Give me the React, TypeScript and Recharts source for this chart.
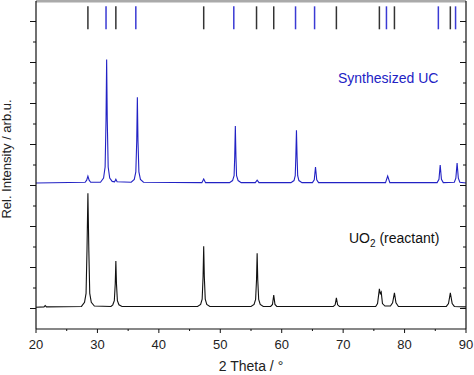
import React from 'react';
import { LineChart, Line, XAxis, YAxis, ReferenceLine } from 'recharts';

// UO2 (reactant) pattern, [2theta, rel. intensity], baseline ~0
const uo2Pattern = [
  [20, 0.03], [21.3, 0.04], [21.5, 0.07], [21.7, 0.04],
  [27.4, 0.05], [27.9, 0.15], [28.15, 0.37], [28.3, 1.42], [28.45, 2.81], [28.6, 1.42], [28.75, 0.37], [29.0, 0.15], [29.5, 0.06],
  [32.2, 0.05], [32.5, 0.09], [32.75, 0.19], [32.9, 0.6], [33.0, 1.16], [33.1, 0.6], [33.25, 0.19], [33.5, 0.09], [34.0, 0.05],
  [46.3, 0.05], [46.8, 0.1], [47.05, 0.23], [47.2, 0.78], [47.3, 1.52], [47.4, 0.78], [47.55, 0.23], [47.8, 0.1], [48.3, 0.05],
  [55.0, 0.05], [55.5, 0.1], [55.75, 0.22], [55.9, 0.7], [56.0, 1.35], [56.1, 0.7], [56.25, 0.22], [56.5, 0.1], [57.0, 0.05],
  [58.2, 0.05], [58.5, 0.1], [58.7, 0.33], [58.9, 0.1], [59.2, 0.05],
  [68.4, 0.05], [68.7, 0.09], [68.9, 0.26], [69.1, 0.09], [69.4, 0.05],
  [75.3, 0.05], [75.6, 0.12], [75.9, 0.48], [76.05, 0.36], [76.2, 0.4], [76.4, 0.12], [76.8, 0.06],
  [77.7, 0.06], [78.05, 0.14], [78.35, 0.38], [78.6, 0.14], [79.0, 0.05],
  [86.8, 0.05], [87.15, 0.12], [87.45, 0.38], [87.75, 0.12], [88.1, 0.05], [90, 0.04],
];

// Synthesized UC pattern, baseline ~3.06
const ucPattern = [
  [20, 3.06],
  [28.0, 3.08], [28.25, 3.13], [28.45, 3.23], [28.65, 3.13], [28.9, 3.08],
  [30.5, 3.08], [31.0, 3.18], [31.25, 3.45], [31.4, 4.6], [31.5, 6.07], [31.6, 4.6], [31.75, 3.45], [32.0, 3.18], [32.4, 3.1],
  [32.8, 3.09], [33.0, 3.15], [33.2, 3.09],
  [35.5, 3.08], [36.0, 3.15], [36.25, 3.33], [36.4, 4.1], [36.5, 5.15], [36.6, 4.1], [36.75, 3.33], [37.0, 3.15], [37.5, 3.08],
  [47.0, 3.07], [47.3, 3.16], [47.6, 3.07],
  [51.5, 3.07], [52.0, 3.12], [52.25, 3.24], [52.35, 3.7], [52.45, 4.45], [52.55, 3.7], [52.65, 3.24], [52.9, 3.12], [53.4, 3.07],
  [55.7, 3.07], [56.0, 3.13], [56.3, 3.07],
  [61.5, 3.07], [62.0, 3.12], [62.2, 3.24], [62.3, 3.7], [62.4, 4.35], [62.5, 3.7], [62.6, 3.24], [62.8, 3.12], [63.3, 3.07],
  [65.0, 3.07], [65.3, 3.14], [65.5, 3.45], [65.7, 3.14], [66.0, 3.07],
  [76.9, 3.07], [77.25, 3.23], [77.6, 3.07],
  [85.3, 3.07], [85.6, 3.15], [85.8, 3.5], [86.0, 3.15], [86.3, 3.07],
  [88.1, 3.08], [88.35, 3.18], [88.55, 3.55], [88.75, 3.18], [89.0, 3.08], [90, 3.06],
];

// reference reflection positions (top strip)
const uo2Refs = [28.45, 33.0, 47.3, 55.9, 58.7, 68.9, 75.9, 78.35, 87.45];
const ucRefs = [31.4, 36.25, 52.2, 62.25, 65.35, 77.05, 85.5, 88.3];
const refStrip = [6.81, 7.37];

const xTicks = [20, 25, 30, 35, 40, 45, 50, 55, 60, 65, 70, 75, 80, 85, 90];
const yTicks = [0, 0.5, 1, 1.5, 2, 2.5, 3, 3.5, 4, 4.5, 5, 5.5, 6, 6.5, 7];

const toRows = (arr: number[][]) => arr.map(([t, i]) => ({ t, i }));
const uo2Data = toRows(uo2Pattern);
const ucData = toRows(ucPattern);

const BLUE = '#2222c4';
const font = '"Liberation Sans", Arial, sans-serif';

const LeftTick = (props: any) => {
  const { x, y, payload } = props;
  const len = Number.isInteger(payload.value) ? 6 : 3;
  return <line x1={x - len} x2={x} y1={y} y2={y} stroke="#111" strokeWidth={1} />;
};

const RightTick = (props: any) => {
  const { x, y, payload } = props;
  const len = Number.isInteger(payload.value) ? 6 : 3;
  return <line x1={x - len} x2={x} y1={y} y2={y} stroke="#111" strokeWidth={1} />;
};

const BottomTick = (props: any) => {
  const { x, y, payload } = props;
  const major = payload.value % 10 === 0;
  return (
    <g>
      <line x1={x} x2={x} y1={y} y2={y + (major ? 4 : 2)} stroke="#111" strokeWidth={1} />
      {major && (
        <text x={x} y={y + 20} textAnchor="middle" fontSize={13} fontFamily={font} fill="#222">
          {payload.value}
        </text>
      )}
    </g>
  );
};

const App: React.FC = () => {
  return (
    <div style={{ position: 'absolute', left: 0, top: 0, width: 474, height: 375, background: '#fff' }}>
      <LineChart width={474} height={375} margin={{ top: 1, right: 0, left: 0, bottom: 0 }}>
        <XAxis
          type="number"
          dataKey="t"
          domain={[20, 90]}
          ticks={xTicks}
          interval={0}
          height={46}
          tickSize={0}
          tickMargin={0}
          tickLine={false}
          tick={<BottomTick />}
          axisLine={{ stroke: '#111', strokeWidth: 1.2 }}
        />
        <YAxis
          yAxisId="l"
          type="number"
          domain={[-0.5, 7.5]}
          ticks={yTicks}
          interval={0}
          width={36}
          tickSize={0}
          tickMargin={0}
          tickLine={false}
          tick={<LeftTick />}
          axisLine={{ stroke: '#111', strokeWidth: 1.2 }}
          allowDataOverflow
        />
        <YAxis
          yAxisId="r"
          orientation="right"
          type="number"
          domain={[-0.5, 7.5]}
          ticks={yTicks}
          interval={0}
          width={8}
          tickSize={0}
          tickMargin={0}
          tickLine={false}
          tick={<RightTick />}
          axisLine={{ stroke: '#111', strokeWidth: 1.2 }}
          allowDataOverflow
        />
        <ReferenceLine yAxisId="r" y={7.5} stroke="#aaa" strokeWidth={3} />
        {uo2Refs.map((t) => (
          <ReferenceLine
            key={`o${t}`}
            yAxisId="r"
            segment={[{ x: t, y: refStrip[0] }, { x: t, y: refStrip[1] }]}
            stroke="#333"
            strokeWidth={1.5}
          />
        ))}
        {ucRefs.map((t) => (
          <ReferenceLine
            key={`c${t}`}
            yAxisId="r"
            segment={[{ x: t, y: refStrip[0] }, { x: t, y: refStrip[1] }]}
            stroke="#3a3ad4"
            strokeWidth={1.5}
          />
        ))}
        <Line
          yAxisId="l"
          data={uo2Data}
          dataKey="i"
          type="linear"
          stroke="#111"
          strokeWidth={1.1}
          dot={false}
          isAnimationActive={false}
        />
        <Line
          yAxisId="l"
          data={ucData}
          dataKey="i"
          type="linear"
          stroke={BLUE}
          strokeWidth={1.1}
          dot={false}
          isAnimationActive={false}
        />
      </LineChart>
      <svg width={474} height={375} style={{ position: 'absolute', left: 0, top: 0, pointerEvents: 'none' }}>
        <text
          x={11}
          y={159}
          transform="rotate(-90 11 159)"
          textAnchor="middle"
          fontSize={13}
          fontFamily={font}
          fill="#222"
        >
          Rel. Intensity / arb.u.
        </text>
        <text x={251} y={371} textAnchor="middle" fontSize={14} fontFamily={font} fill="#222">
          2 Theta / °
        </text>
        <text x={338} y={83} fontSize={14} fontFamily={font} fill={BLUE}>
          Synthesized UC
        </text>
        <text x={349} y={243} fontSize={14} fontFamily={font} fill="#111">
          UO<tspan fontSize={10} dy={4}>2</tspan>
          <tspan dy={-4}> (reactant)</tspan>
        </text>
      </svg>
    </div>
  );
};

export default App;
